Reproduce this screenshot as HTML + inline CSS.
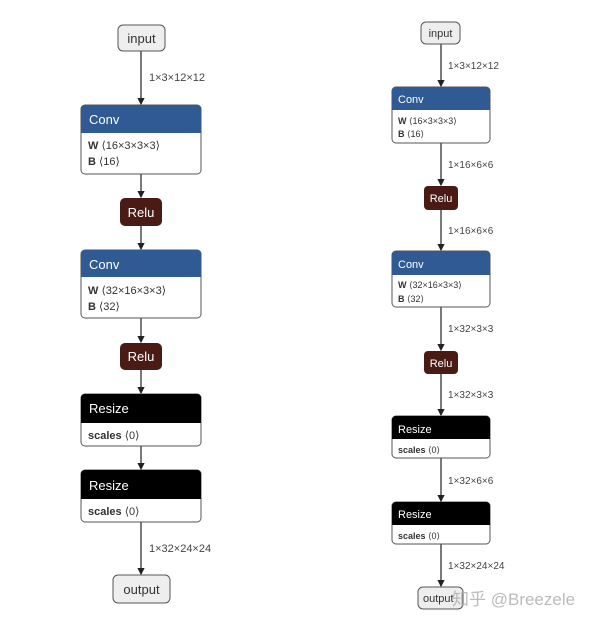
<!DOCTYPE html>
<html><head><meta charset="utf-8"><style>
body{margin:0;background:#fff;}
svg text{font-family:"Liberation Sans","DejaVu Sans","Noto Sans CJK SC",sans-serif;}
</style></head><body>
<svg width="600" height="622" viewBox="0 0 600 622" xmlns="http://www.w3.org/2000/svg">
<defs><marker id="a" markerWidth="6" markerHeight="6" refX="5" refY="3" orient="auto"><path d="M0,0 L6,3 L0,6 z" fill="#222"/></marker></defs>
<rect width="600" height="622" fill="#fff"/>
<g stroke="#222" stroke-width="1.2" marker-end="url(#a)">
<line x1="141" y1="51" x2="141" y2="104"/>
<line x1="141" y1="174" x2="141" y2="197"/>
<line x1="141" y1="226" x2="141" y2="249"/>
<line x1="141" y1="318" x2="141" y2="342"/>
<line x1="141" y1="370" x2="141" y2="393"/>
<line x1="141" y1="446" x2="141" y2="469"/>
<line x1="141" y1="522" x2="141" y2="574"/>
<line x1="441" y1="44" x2="441" y2="86"/>
<line x1="441" y1="143" x2="441" y2="185"/>
<line x1="441" y1="210" x2="441" y2="250"/>
<line x1="441" y1="307" x2="441" y2="350"/>
<line x1="441" y1="374" x2="441" y2="415"/>
<line x1="441" y1="458" x2="441" y2="501"/>
<line x1="441" y1="544" x2="441" y2="586"/>
</g>
<g font-size="12" fill="#333">
<rect x="118" y="25" width="47" height="26" rx="5" fill="#eee" stroke="#555"/>
<text x="141.5" y="43" text-anchor="middle" font-size="13">input</text>
<text x="149" y="81" font-size="11" fill="#444">1×3×12×12</text>
<rect x="81" y="105" width="120" height="69" rx="4" fill="#fff" stroke="#555"/>
<path d="M81,133 V109 a4,4 0 0 1 4,-4 H197 a4,4 0 0 1 4,4 V133z" fill="#2f5a94"/>
<text x="89" y="124" fill="#fff" font-size="13">Conv</text>
<text x="88" y="149" font-size="11"><tspan font-weight="bold">W</tspan> ⟨16×3×3×3⟩</text>
<text x="88" y="165" font-size="11"><tspan font-weight="bold">B</tspan> ⟨16⟩</text>
<rect x="120" y="198" width="42" height="28" rx="5" fill="#4a1a14"/>
<text x="141" y="217" text-anchor="middle" fill="#fff" font-size="13">Relu</text>
<rect x="81" y="250" width="120" height="68" rx="4" fill="#fff" stroke="#555"/>
<path d="M81,277 V254 a4,4 0 0 1 4,-4 H197 a4,4 0 0 1 4,4 V277z" fill="#2f5a94"/>
<text x="89" y="269" fill="#fff" font-size="13">Conv</text>
<text x="88" y="294" font-size="11"><tspan font-weight="bold">W</tspan> ⟨32×16×3×3⟩</text>
<text x="88" y="310" font-size="11"><tspan font-weight="bold">B</tspan> ⟨32⟩</text>
<rect x="120" y="343" width="42" height="27" rx="5" fill="#4a1a14"/>
<text x="141" y="361" text-anchor="middle" fill="#fff" font-size="13">Relu</text>
<rect x="81" y="394" width="120" height="52" rx="4" fill="#fff" stroke="#555"/>
<path d="M81,423 V398 a4,4 0 0 1 4,-4 H197 a4,4 0 0 1 4,4 V423z" fill="#000"/>
<text x="89" y="413" fill="#fff" font-size="13">Resize</text>
<text x="88" y="439" font-size="11"><tspan font-weight="bold">scales</tspan> ⟨0⟩</text>
<rect x="81" y="470" width="120" height="52" rx="4" fill="#fff" stroke="#555"/>
<path d="M81,499 V474 a4,4 0 0 1 4,-4 H197 a4,4 0 0 1 4,4 V499z" fill="#000"/>
<text x="89" y="490" fill="#fff" font-size="13">Resize</text>
<text x="88" y="515" font-size="11"><tspan font-weight="bold">scales</tspan> ⟨0⟩</text>
<text x="149" y="552" font-size="11" fill="#444">1×32×24×24</text>
<rect x="113" y="575" width="57" height="28" rx="5" fill="#eee" stroke="#555"/>
<text x="141.5" y="594" text-anchor="middle" font-size="13">output</text>
</g>
<g fill="#333" font-size="10">
<rect x="421" y="22" width="39" height="22" rx="5" fill="#eee" stroke="#555"/>
<text x="440.5" y="37" text-anchor="middle" font-size="11">input</text>
<text x="448" y="69" fill="#444">1×3×12×12</text>
<rect x="392" y="87" width="98" height="56" rx="4" fill="#fff" stroke="#555"/>
<path d="M392,110 V91 a4,4 0 0 1 4,-4 H486 a4,4 0 0 1 4,4 V110z" fill="#2f5a94"/>
<text x="398" y="103" fill="#fff" font-size="11">Conv</text>
<text x="398" y="124" font-size="9"><tspan font-weight="bold">W</tspan> ⟨16×3×3×3⟩</text>
<text x="398" y="137" font-size="9"><tspan font-weight="bold">B</tspan> ⟨16⟩</text>
<text x="448" y="168" fill="#444">1×16×6×6</text>
<rect x="424" y="186" width="34" height="24" rx="4" fill="#4a1a14"/>
<text x="441" y="202" text-anchor="middle" fill="#fff" font-size="11">Relu</text>
<text x="448" y="234" fill="#444">1×16×6×6</text>
<rect x="392" y="251" width="98" height="56" rx="4" fill="#fff" stroke="#555"/>
<path d="M392,275 V255 a4,4 0 0 1 4,-4 H486 a4,4 0 0 1 4,4 V275z" fill="#2f5a94"/>
<text x="398" y="268" fill="#fff" font-size="11">Conv</text>
<text x="398" y="288" font-size="9"><tspan font-weight="bold">W</tspan> ⟨32×16×3×3⟩</text>
<text x="398" y="302" font-size="9"><tspan font-weight="bold">B</tspan> ⟨32⟩</text>
<text x="448" y="332" fill="#444">1×32×3×3</text>
<rect x="424" y="351" width="34" height="23" rx="4" fill="#4a1a14"/>
<text x="441" y="367" text-anchor="middle" fill="#fff" font-size="11">Relu</text>
<text x="448" y="398" fill="#444">1×32×3×3</text>
<rect x="392" y="416" width="98" height="42" rx="4" fill="#fff" stroke="#555"/>
<path d="M392,439 V420 a4,4 0 0 1 4,-4 H486 a4,4 0 0 1 4,4 V439z" fill="#000"/>
<text x="398" y="433" fill="#fff" font-size="11">Resize</text>
<text x="398" y="453" font-size="9"><tspan font-weight="bold">scales</tspan> ⟨0⟩</text>
<text x="448" y="484" fill="#444">1×32×6×6</text>
<rect x="392" y="502" width="98" height="42" rx="4" fill="#fff" stroke="#555"/>
<path d="M392,525 V506 a4,4 0 0 1 4,-4 H486 a4,4 0 0 1 4,4 V525z" fill="#000"/>
<text x="398" y="518" fill="#fff" font-size="11">Resize</text>
<text x="398" y="539" font-size="9"><tspan font-weight="bold">scales</tspan> ⟨0⟩</text>
<text x="448" y="569" fill="#444">1×32×24×24</text>
<rect x="418" y="587" width="45" height="22" rx="5" fill="#eee" stroke="#555"/>
<text x="423" y="602" font-size="11">output</text>
<text x="452" y="605" font-size="17" fill="#aaa" fill-opacity="0.8">知乎 @Breezele</text>
</g>
</svg>
</body></html>
